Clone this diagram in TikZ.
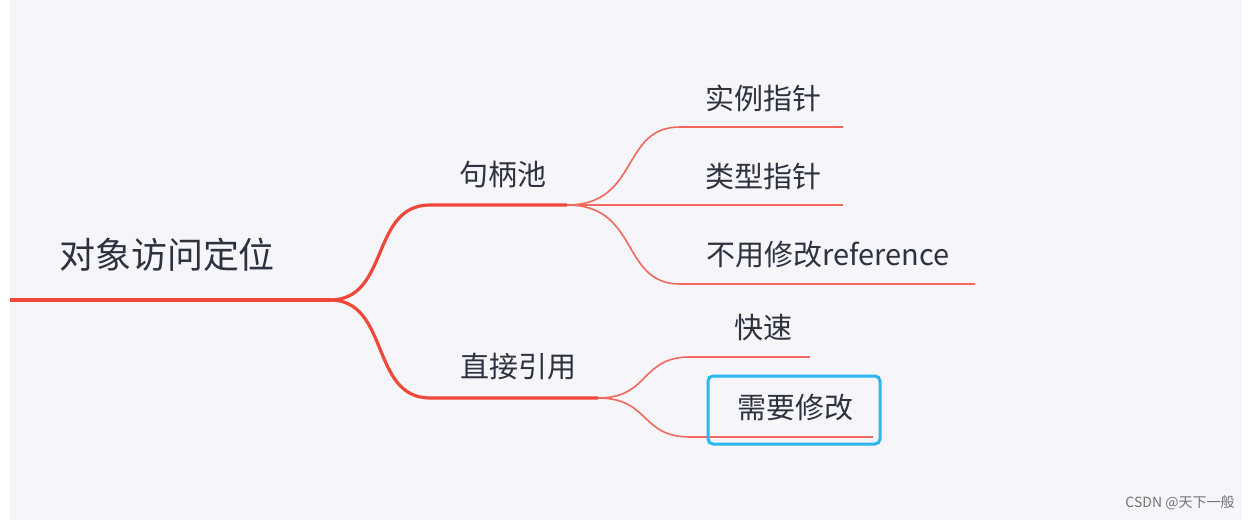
\documentclass[tikz,border=0pt]{standalone}
\usepackage{fontspec}
\setmainfont{Noto Sans CJK SC}
\definecolor{mainred}{RGB}{238,72,58}
\definecolor{subred}{RGB}{242,104,92}
\definecolor{bg}{RGB}{245,245,250}
\definecolor{txt}{RGB}{45,50,62}
\begin{document}
\begin{tikzpicture}[x=1pt,y=-1pt,
  main/.style={draw=mainred, line width=3.2pt},
  sub/.style={draw=subred, line width=1.6pt},
  lbl/.style={text=txt, font=\fontsize{29}{31}\selectfont, inner sep=0},
  every node/.append style={inner sep=0}]
\useasboundingbox (0,0) rectangle (1256,524);
\fill[white] (0,0) rectangle (1256,524);
\fill[bg] (10,0) rectangle (1242,520);
\coordinate (root) at (10,300);
\coordinate (rj) at (330,300);
\coordinate (a0) at (430,205); \coordinate (a1) at (567,205);
\coordinate (b0) at (430,398); \coordinate (b1) at (598,398);
\draw[main] (root) -- (rj);
\draw[main] (rj) .. controls (390,300) and (370,205) .. (a0) -- (a1);
\draw[main] (rj) .. controls (390,300) and (370,398) .. (b0) -- (b1);
\node[lbl, font=\fontsize{36}{38}\selectfont] (t) at (167,255) {对象访问定位};
\node[lbl] (ta) at (503,175) {句柄池};
\node[lbl] (tb) at (518,367) {直接引用};
\coordinate (c1) at (843,127); \coordinate (c2) at (843,205); \coordinate (c3) at (975,284);
\draw[sub] (a1) .. controls (640,205) and (620,127) .. (680,127) -- (c1);
\draw[sub] (a1) -- (c2);
\draw[sub] (a1) .. controls (640,205) and (620,284) .. (680,284) -- (c3);
\node[lbl] (n1) at (763,98) {实例指针};
\node[lbl] (n2) at (763,176) {类型指针};
\node[lbl] (n3) at (828,255) {不用修改reference};
\coordinate (d1) at (810,357); \coordinate (d2) at (873,437);
\draw[sub] (b1) .. controls (650,398) and (640,357) .. (690,357) -- (d1);
\draw[sub] (b1) .. controls (650,398) and (640,437) .. (690,437) -- (d2);
\node[lbl] (n4) at (763,328) {快速};
\node[lbl] (n5) at (795,408) {需要修改};
\draw[draw={rgb,255:red,43;green,183;blue,240}, line width=3pt, rounded corners=5pt] (708,376) rectangle (880,444);
\node[text=black!55, font=\fontsize{14}{16}\selectfont] (w) at (1180,503) {CSDN @天下一般};
\end{tikzpicture}
\end{document}
